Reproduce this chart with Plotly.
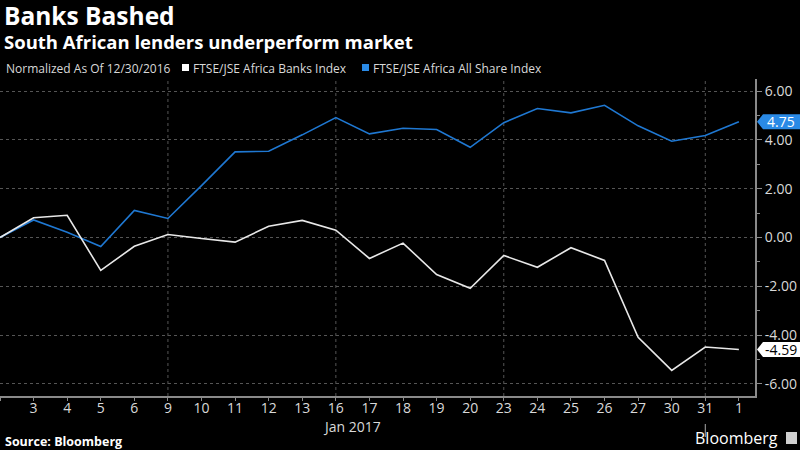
import plotly.graph_objects as go

# ---------------- data ----------------
day_labels = ["", "3", "4", "5", "6", "9", "10", "11", "12", "13", "16", "17",
              "18", "19", "20", "23", "24", "25", "26", "27", "30", "31", "1"]
banks = [0, 0.81, 0.91, -1.35, -0.36, 0.12, -0.04, -0.19, 0.46, 0.70, 0.30, -0.86,
         -0.23, -1.52, -2.08, -0.74, -1.22, -0.42, -0.94, -4.09, -5.45, -4.49, -4.59]
allshare = [0, 0.72, 0.22, -0.37, 1.11, 0.78, 2.13, 3.51, 3.54, 4.21, 4.92, 4.25,
            4.48, 4.43, 3.70, 4.71, 5.29, 5.11, 5.42, 4.58, 3.95, 4.18, 4.75]
grid_idx = [5, 10, 15, 21]
y_ticks = [-6, -4, -2, 0, 2, 4, 6]
y_ticktext = ["-6.00", "-4.00", "-2.00", "0.00", "2.00", "4.00", "6.00"]

title = "Banks Bashed"
subtitle = "South African lenders underperform market"
note = "Normalized As Of 12/30/2016"
name_banks = "FTSE/JSE Africa Banks Index"
name_all = "FTSE/JSE Africa All Share Index"

# ---------------- style ----------------
W, H = 800, 450
L, R, T, B = 0, 45, 79, 54
PW, PH = W - L - R, H - T - B
YMIN, YMAX = -6.5, 6.5
BLUE = "#1f78d2"
WHITE = "#e8e8e8"
TXT = "#d9d9d9"
FONT = "Open Sans"


def px(x):
    return (x - L) / PW


def py(y):
    return 1 - (y - T) / PH


x_idx = list(range(len(day_labels)))

fig = go.Figure()
fig.add_trace(go.Scatter(x=x_idx, y=allshare, mode="lines", name=name_all,
                         line=dict(color=BLUE, width=1.6), showlegend=False,
                         cliponaxis=False))
fig.add_trace(go.Scatter(x=x_idx, y=banks, mode="lines", name=name_banks,
                         line=dict(color=WHITE, width=1.6), showlegend=False,
                         cliponaxis=False))

shapes = []
annotations = []

# vertical dotted grid lines
for gi in grid_idx:
    shapes.append(dict(type="line", xref="x", yref="paper", x0=gi, x1=gi, y0=0, y1=1,
                       line=dict(color="#555555", width=1, dash="dot"), layer="below"))

# month separator below 31
shapes.append(dict(type="line", xref="x", yref="paper", x0=21, x1=21,
                   y0=py(424), y1=py(437), line=dict(color="#aaaaaa", width=1)))

# end-value callouts
d = 7.5 / (PH / (YMAX - YMIN))
for val, fill, tcol in [(allshare[-1], "#2a8ae6", "#ffffff"), (banks[-1], "#ffffff", "#000000")]:
    path = (f"M {px(757)},{val} L {px(763)},{val + d} L {px(800)},{val + d} "
            f"L {px(800)},{val - d} L {px(763)},{val - d} Z")
    shapes.append(dict(type="path", xref="paper", yref="y", path=path,
                       fillcolor=fill, line=dict(width=0)))
    annotations.append(dict(xref="paper", yref="y", x=px(781), y=val, text=f"{val:.2f}",
                            showarrow=False, xanchor="center", yanchor="middle",
                            font=dict(family=FONT, size=14, color=tcol)))

# legend squares
shapes.append(dict(type="rect", xref="paper", yref="paper", x0=px(182), x1=px(189),
                   y0=py(71), y1=py(64), fillcolor="#ffffff", line=dict(width=0)))
shapes.append(dict(type="rect", xref="paper", yref="paper", x0=px(362), x1=px(369),
                   y0=py(71), y1=py(64), fillcolor="#2a8ae6", line=dict(width=0)))

# bloomberg icon
shapes.append(dict(type="rect", xref="paper", yref="paper", x0=px(786), x1=px(797),
                   y0=py(444), y1=py(432), fillcolor="#cfcfcf", line=dict(width=0)))

annotations += [
    dict(xref="paper", yref="paper", x=px(2), y=py(16), text=f"<b>{title}</b>",
         showarrow=False, xanchor="left", yanchor="middle",
         font=dict(family=FONT, size=24.5, color="#ffffff")),
    dict(xref="paper", yref="paper", x=px(2), y=py(41), text=f"<b>{subtitle}</b>",
         showarrow=False, xanchor="left", yanchor="middle",
         font=dict(family=FONT, size=18.5, color="#ffffff")),
    dict(xref="paper", yref="paper", x=px(4), y=py(68), text=note,
         showarrow=False, xanchor="left", yanchor="middle",
         font=dict(family=FONT, size=12, color=TXT)),
    dict(xref="paper", yref="paper", x=px(191), y=py(68), text=name_banks,
         showarrow=False, xanchor="left", yanchor="middle",
         font=dict(family=FONT, size=12, color=TXT)),
    dict(xref="paper", yref="paper", x=px(371), y=py(68), text=name_all,
         showarrow=False, xanchor="left", yanchor="middle",
         font=dict(family=FONT, size=12, color=TXT)),
    dict(xref="paper", yref="paper", x=px(352), y=py(426), text="Jan 2017",
         showarrow=False, xanchor="center", yanchor="middle",
         font=dict(family=FONT, size=14, color=TXT)),
    dict(xref="paper", yref="paper", x=px(3), y=py(441), text="<b>Source: Bloomberg</b>",
         showarrow=False, xanchor="left", yanchor="middle",
         font=dict(family=FONT, size=12.5, color="#ffffff")),
    dict(xref="paper", yref="paper", x=px(780), y=py(438), text="Bloomberg",
         showarrow=False, xanchor="right", yanchor="middle",
         font=dict(family=FONT, size=16, color="#ffffff")),
]

fig.update_layout(
    width=W, height=H,
    margin=dict(l=L, r=R, t=T, b=B, pad=0),
    paper_bgcolor="#000000", plot_bgcolor="#000000",
    showlegend=False,
    shapes=shapes, annotations=annotations,
    xaxis=dict(range=[0, 22.48], tickmode="array", tickvals=x_idx, ticktext=day_labels,
               showgrid=False, zeroline=False, showline=True, linecolor="#8a8a8a",
               linewidth=2, ticks="outside", ticklen=3, tickcolor="#8a8a8a",
               ticklabelstandoff=-5,
               tickfont=dict(family=FONT, size=14, color=TXT)),
    yaxis=dict(range=[YMIN, YMAX], side="right", tickmode="array", tickvals=y_ticks,
               ticktext=y_ticktext, showgrid=True, gridcolor="#555555", griddash="dot",
               gridwidth=1, zeroline=False, showline=True, linecolor="#8a8a8a",
               linewidth=2, ticks="outside", ticklen=5, tickcolor="#8a8a8a",
               tickfont=dict(family=FONT, size=14, color=TXT),
               minor=dict(tickmode="array", tickvals=[-5, -3, -1, 1, 3, 5],
                          ticks="outside", ticklen=3, tickcolor="#8a8a8a", showgrid=False)),
)

fig.write_html("out.html")
